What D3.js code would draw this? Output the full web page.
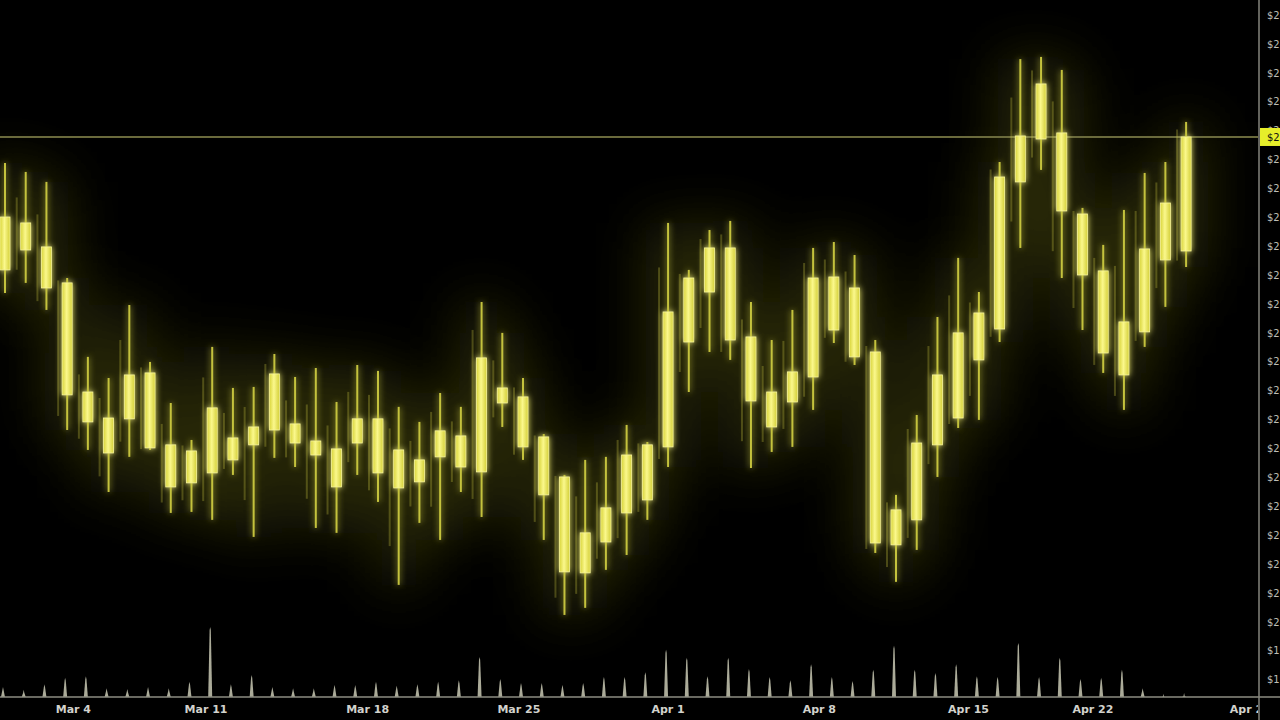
<!DOCTYPE html>
<html><head><meta charset="utf-8">
<script src="https://cdn.jsdelivr.net/npm/d3@7"></script>
<style>html,body{margin:0;padding:0;background:#000;overflow:hidden}</style>
</head><body>
<svg id="chart" width="1280" height="720"></svg>
<script>
// ---- data ----
const opens = [228.02,225.74,225.95,223.46,215.91,214.11,214.05,217.23,212.25,209.62,
  210.31,212.73,212.25,213.28,213.70,212.52,211.97,212.38,214.05,211.90,
  209.69,211.42,212.87,210.38,216.19,215.57,212.80,210.03,203.39,205.53,
  207.54,208.44,212.11,219.37,222.83,225.88,219.72,215.91,215.22,216.95,
  223.87,223.11,218.68,207.75,207.06,212.25,214.11,218.13,220.27,230.45,
  233.42,233.84,228.23,224.29,217.09,220.07,225.05,225.67];
const highs = [231.76,231.14,230.45,223.80,218.34,216.88,221.93,217.99,215.15,212.59,
  219.03,216.19,216.26,218.54,216.95,217.57,215.22,217.78,217.37,214.88,
  213.84,215.84,214.88,222.14,220.00,216.88,213.00,210.17,211.21,211.42,
  213.63,212.45,227.61,224.36,227.12,227.75,222.14,219.51,221.59,225.88,
  226.29,225.39,219.51,208.79,214.32,221.10,225.19,222.83,231.83,238.95,
  239.10,238.20,228.65,226.09,228.51,231.07,231.83,234.60];
const lows = [222.76,223.46,221.59,213.28,211.90,208.99,211.42,211.90,207.54,207.61,
  207.06,210.17,205.88,211.35,210.72,206.50,206.16,210.17,208.30,202.56,
  206.85,205.67,208.99,207.26,213.49,211.21,205.67,200.48,200.97,203.60,
  204.63,207.06,210.72,215.91,218.68,218.13,210.65,211.76,212.11,214.67,
  219.30,217.78,204.77,202.77,204.98,210.03,213.42,213.98,219.37,225.88,
  231.28,223.80,220.20,217.23,214.67,219.03,221.80,224.56];
const closes = [224.36,227.61,223.11,215.71,213.84,211.69,217.09,212.04,209.34,211.83,
  214.81,211.21,213.49,217.16,212.38,211.55,209.34,214.05,210.31,209.27,
  211.21,213.22,210.72,218.27,215.15,212.11,208.79,203.46,206.16,207.89,
  211.55,212.25,221.45,223.80,225.88,219.51,215.29,213.49,217.30,223.80,
  220.20,218.34,205.46,205.33,212.38,217.09,220.00,221.38,230.79,233.63,
  237.23,228.44,224.01,218.61,220.76,225.81,228.99,233.56];
const volumes = [1.25,0.9,1.6,2.4,2.6,1.1,1.0,1.25,1.1,1.9,
  8.75,1.6,2.75,1.25,1.1,1.1,1.5,1.5,1.9,1.4,
  1.6,1.9,2.1,5.0,2.25,1.75,1.75,1.5,1.75,2.5,
  2.5,3.1,5.9,4.9,2.6,4.9,3.5,2.5,2.1,4.1,
  2.5,2.0,3.4,6.4,3.4,3.0,4.1,2.6,2.5,6.75,
  2.5,4.9,2.25,2.4,3.4,1.1,0.4,0.5];
const priceTicks = [242,240,238,236,234,232,230,228,226,224,222,220,218,216,214,212,210,208,206,204,202,200,198,196];
const dateLabels = ["Mar 4","Mar 11","Mar 18","Mar 25","Apr 1","Apr 8","Apr 15","Apr 22","Apr 29"];
const dateTickIdx = [3.3,9.7,17.5,24.8,32,39.3,46.5,52.5,60.1];

// ---- layout ----
const W = 1280, H = 720;
const plotRight = 1258, baseY = 697;
const n = closes.length;
const candles = d3.range(n).map(i => ({i, o: opens[i], h: highs[i], l: lows[i], c: closes[i], v: volumes[i]}));

const x = d3.scaleLinear().domain([-0.241, 60.47]).range([0, plotRight]);
const y = d3.scaleLinear().domain([194.8, 243.04]).range([baseY, 0]);
const yv = d3.scaleLinear().domain([0, 10]).range([baseY, baseY - 80]);

const svg = d3.select("#chart");
svg.append("rect").attr("width", W).attr("height", H).attr("fill", "#000");

const defs = svg.append("defs");
const haze = defs.append("filter").attr("id", "haze").attr("x", "-50%").attr("y", "-50%").attr("width", "200%").attr("height", "200%");
haze.append("feGaussianBlur").attr("stdDeviation", 28);
const glow = defs.append("filter").attr("id", "glow").attr("x", "-100%").attr("y", "-20%").attr("width", "300%").attr("height", "140%");
glow.append("feGaussianBlur").attr("in", "SourceGraphic").attr("stdDeviation", 3).attr("result", "b");
const fm = glow.append("feMerge");
fm.append("feMergeNode").attr("in", "b");
fm.append("feMergeNode").attr("in", "SourceGraphic");
const grad = defs.append("linearGradient").attr("id", "body").attr("x1", "0").attr("x2", "1").attr("y1", "0").attr("y2", "0");
grad.append("stop").attr("offset", "0").attr("stop-color", "#d9d53c");
grad.append("stop").attr("offset", "0.45").attr("stop-color", "#fbf88c");
grad.append("stop").attr("offset", "1").attr("stop-color", "#d4d03a");
defs.append("clipPath").attr("id", "plotClip").append("rect").attr("x", 0).attr("y", 0).attr("width", plotRight).attr("height", H);

// background haze around candles
svg.append("g").attr("filter", "url(#haze)").attr("opacity", 0.55)
  .selectAll("rect").data(candles).join("rect")
  .attr("x", d => x(d.i) - 22).attr("width", 44)
  .attr("y", d => y(d.h)).attr("height", d => y(d.l) - y(d.h))
  .attr("fill", "#4a4a0c");

const plot = svg.append("g").attr("clip-path", "url(#plotClip)");

// current price line
const last = closes[n - 1];
plot.append("line").attr("x1", 0).attr("x2", plotRight).attr("y1", y(last)).attr("y2", y(last))
  .attr("stroke", "#6a6a3c").attr("stroke-width", 2);

// ghost wicks
plot.append("g").attr("opacity", 0.3).selectAll("line").data(candles).join("line")
  .attr("x1", d => x(d.i) - 9).attr("x2", d => x(d.i) - 9)
  .attr("y1", d => y(d.h) + (y(Math.max(d.o, d.c)) - y(d.h)) * 0.5)
  .attr("y2", d => y(d.l) - (y(d.l) - y(Math.min(d.o, d.c))) * 0.4)
  .attr("stroke", "#c8c440").attr("stroke-width", 2);

// candles
const cg = plot.append("g").attr("filter", "url(#glow)");
cg.selectAll("line.wick").data(candles).join("line").attr("class", "wick")
  .attr("x1", d => x(d.i)).attr("x2", d => x(d.i))
  .attr("y1", d => y(d.h)).attr("y2", d => y(d.l))
  .attr("stroke", "#c4c23c").attr("stroke-width", 2);
cg.selectAll("rect.body").data(candles).join("rect").attr("class", "body")
  .attr("x", d => x(d.i) - 5).attr("width", 10)
  .attr("y", d => y(Math.max(d.o, d.c)))
  .attr("height", d => Math.max(2, Math.abs(y(d.o) - y(d.c))))
  .attr("fill", "url(#body)").attr("stroke", "#f7f49a").attr("stroke-width", 0.8);

// volume spikes
plot.append("g").selectAll("path").data(candles).join("path")
  .attr("d", d => {
    const cx = x(d.i) - 2, top = yv(d.v);
    return d3.line()([[cx - 2, baseY], [cx - 0.6, top + 3], [cx, top], [cx + 0.6, top + 3], [cx + 2, baseY]]);
  })
  .attr("fill", "#c9c9b4").attr("opacity", 0.85);

// baseline
svg.append("line").attr("x1", 0).attr("x2", W).attr("y1", baseY).attr("y2", baseY)
  .attr("stroke", "#8c8c82").attr("stroke-width", 1.5);

// x labels
const xl = svg.append("g").attr("clip-path", "url(#plotClip)");
xl.selectAll("text").data(dateTickIdx).join("text")
  .attr("x", d => x(d)).attr("y", 713)
  .attr("text-anchor", "middle")
  .attr("font-family", "DejaVu Sans, sans-serif").attr("font-size", 11).attr("font-weight", "bold")
  .attr("fill", "#d2d2cc")
  .text((d, i) => dateLabels[i]);

// right axis
svg.append("line").attr("x1", plotRight + 1).attr("x2", plotRight + 1).attr("y1", 0).attr("y2", H)
  .attr("stroke", "#85857c").attr("stroke-width", 1.5);
const yAxis = d3.axisRight(y).tickValues(priceTicks).tickSize(0).tickPadding(9)
  .tickFormat(d => "$" + d3.format(".2f")(d));
const ya = svg.append("g").attr("transform", `translate(${plotRight},0)`).call(yAxis);
ya.select(".domain").remove();
ya.selectAll("text").attr("font-family", "DejaVu Sans, sans-serif").attr("font-size", 10).attr("fill", "#bdbdb6");

// current price tag
svg.append("rect").attr("x", plotRight + 2).attr("y", y(last) - 9).attr("width", 24).attr("height", 18).attr("fill", "#e6ee2a");
svg.append("text").attr("x", plotRight + 9).attr("y", y(last) + 4)
  .attr("font-family", "DejaVu Sans, sans-serif").attr("font-size", 10).attr("fill", "#111")
  .text("$" + d3.format(".2f")(last));
</script>
</body></html>
